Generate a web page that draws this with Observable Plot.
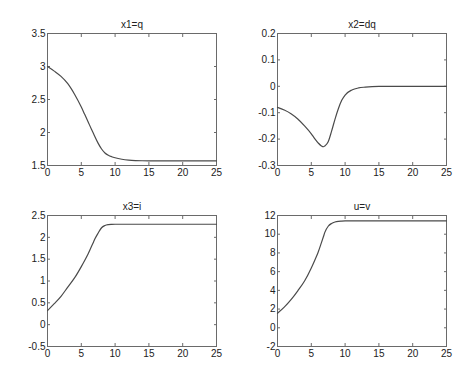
<!DOCTYPE html>
<html><head><meta charset="utf-8">
<script src="https://cdn.jsdelivr.net/npm/d3@7"></script>
<script src="https://cdn.jsdelivr.net/npm/@observablehq/plot@0.6"></script>
<style>
body{margin:0;background:#fff}
#wrap{position:relative;width:474px;height:377px;background:#fff}
.cell{position:absolute}
</style>
</head><body><div id="wrap"></div>
<script>
const time = [0,1,2,3,4,5,5.5,6,6.5,6.8,7,7.5,8,8.5,9,9.5,10,11,12,13,14,15,20,25];
const x1 = [3.0,2.93,2.85,2.74,2.58,2.385,2.275,2.163,2.05,1.985,1.94,1.835,1.75,1.69,1.655,1.633,1.617,1.595,1.582,1.575,1.572,1.571,1.571,1.571];
const x2 = [-0.08,-0.09,-0.104,-0.124,-0.15,-0.18,-0.198,-0.214,-0.226,-0.229,-0.226,-0.21,-0.17,-0.125,-0.085,-0.053,-0.033,-0.014,-0.006,-0.003,-0.001,0,0,0];
const x3 = [0.32,0.48,0.65,0.86,1.07,1.33,1.47,1.62,1.79,1.89,1.96,2.1,2.22,2.27,2.29,2.297,2.3,2.3,2.3,2.3,2.3,2.3,2.3,2.3];
const u  = [1.55,2.2,3.0,3.95,5.0,6.4,7.2,8.05,9.1,9.75,10.2,10.85,11.15,11.3,11.37,11.4,11.42,11.43,11.43,11.43,11.43,11.43,11.43,11.43];
const titles = ["x1=q","x2=dq","x3=i","u=v"];
const xTicks = [0,5,10,15,20,25];
const yTicks1 = [1.5,2,2.5,3,3.5];
const yTicks2 = [-0.3,-0.2,-0.1,0,0.1,0.2];
const yTicks3 = [-0.5,0,0.5,1,1.5,2,2.5];
const yTicks4 = [-2,0,2,4,6,8,10,12];

const series = [x1, x2, x3, u];
const yTickSets = [yTicks1, yTicks2, yTicks3, yTicks4];
const cells = [
  {left:0,   top:0,   width:237, height:190, ml:47, mr:21, mt:33, mb:25},
  {left:237, top:0,   width:237, height:190, ml:40, mr:28, mt:33, mb:25},
  {left:0,   top:190, width:237, height:187, ml:47, mr:21, mt:25, mb:31},
  {left:237, top:190, width:237, height:187, ml:40, mr:28, mt:25, mb:31}
];
const fmt = d => String(d);
const wrap = document.getElementById("wrap");
const frameColor = "#6a6a6a", lineColor = "#4a4a4a", textColor = "#222";

series.forEach((vals, i) => {
  const c = cells[i];
  const yt = yTickSets[i];
  const data = time.map((t, j) => ({t, v: vals[j]}));
  const chart = Plot.plot({
    width: c.width, height: c.height,
    marginLeft: c.ml, marginRight: c.mr, marginTop: c.mt, marginBottom: c.mb,
    style: {fontFamily: "'Liberation Sans', Arial, sans-serif", fontSize: "10px", color: textColor, background: "transparent"},
    x: {domain: [xTicks[0], xTicks[xTicks.length-1]]},
    y: {domain: [yt[0], yt[yt.length-1]]},
    marks: [
      Plot.frame({stroke: frameColor, strokeWidth: 1}),
      Plot.axisX({ticks: xTicks, tickFormat: fmt, tickSize: -3, tickPadding: 6, stroke: frameColor, fill: textColor, label: null}),
      Plot.axisX({anchor: "top", ticks: xTicks, tickSize: -3, stroke: frameColor, fill: "none", label: null}),
      Plot.axisY({ticks: yt, tickFormat: fmt, tickSize: -3, tickPadding: 5, stroke: frameColor, fill: textColor, label: null}),
      Plot.axisY({anchor: "right", ticks: yt, tickSize: -3, stroke: frameColor, fill: "none", label: null}),
      Plot.line(data, {x: "t", y: "v", stroke: lineColor, strokeWidth: 1.2, curve: "monotone-x"}),
      Plot.text([titles[i]], {text: d => d, frameAnchor: "top", lineAnchor: "middle", dy: -9, fill: textColor, fontSize: 10})
    ]
  });
  const div = document.createElement("div");
  div.className = "cell";
  div.style.left = c.left + "px";
  div.style.top = c.top + "px";
  div.appendChild(chart);
  wrap.appendChild(div);
});
</script>
</body></html>
